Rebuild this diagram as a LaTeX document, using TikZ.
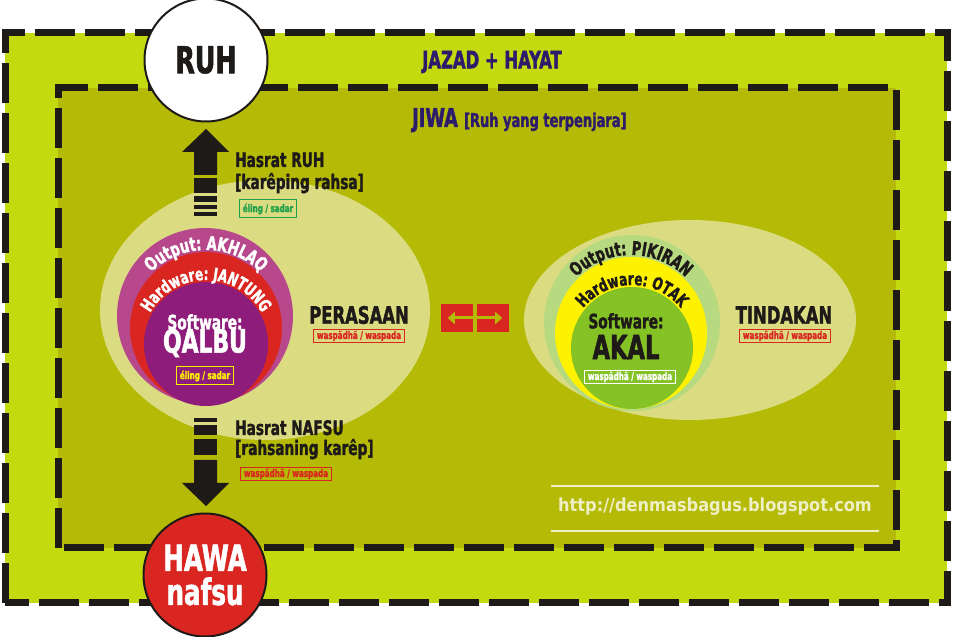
\documentclass[tikz,border=0pt]{standalone}
\usepackage{fontspec}
\setmainfont{DejaVu Sans Condensed}[FakeStretch=0.76, BoldFeatures={FakeBold=1.6}]
\newfontfamily\urlfont{DejaVu Sans Condensed}
\usepackage{tikz}
\usetikzlibrary{arrows.meta,shapes.geometric,decorations.text,calc}
\tikzset{>={Latex[width=3pt,length=5pt]}}

\definecolor{jazadbg}{HTML}{C5DA0E}
\definecolor{jiwabg}{HTML}{B5BA06}
\definecolor{ellbg}{HTML}{DBDC82}
\definecolor{akhlaq}{HTML}{B6488B}
\definecolor{jantung}{HTML}{DA2620}
\definecolor{qalbu}{HTML}{8E1C7A}
\definecolor{pikiran}{HTML}{B7DA80}
\definecolor{otak}{HTML}{FFF200}
\definecolor{akal}{HTML}{84C225}
\definecolor{navy}{HTML}{2D1B6B}
\definecolor{elinggreen}{HTML}{1FA04A}
\definecolor{urlcol}{HTML}{EEEFC4}
\definecolor{ink}{HTML}{1E1A17}

\newcommand\fsz[1]{\fontsize{#1}{#1}\selectfont}

\tikzset{
  frame/.style={line width=7pt, dash pattern=on 40pt off 10pt, draw=ink},
  ell/.style={ellipse, fill=ellbg, inner sep=0pt},
  ring/.style={circle, inner sep=0pt},
  bigdot/.style={circle, draw=ink, line width=2pt, inner sep=0pt, minimum size=123pt},
  ringtext/.style 2 args={decorate, decoration={text along path, text align=center,
      text color=#1, text={#2}}},
  tagbox/.style={draw=#1, text=#1, line width=1pt, inner xsep=3pt, inner ysep=1pt, font=\fsz{10.5}},
  swapbox/.style={fill=jantung, minimum width=32pt, minimum height=28pt, inner sep=0pt},
  swaparrow/.style={-{Triangle[length=7pt,width=12pt]}, line width=3pt, draw=jiwabg},
  urlline/.style={draw=urlcol, line width=2pt},
}

\begin{document}
\begin{tikzpicture}[x=1pt,y=1pt]

  \bfseries

  \fill[white] (0,0) rectangle (953,637);
  \useasboundingbox (0,0) rectangle (953,637);

  %% <frames>
  \draw[frame, fill=jazadbg] (5,34) rectangle (947,604);
  \node[text=navy, font=\fsz{24}] (jazad) at (492,575) {JAZAD + HAYAT};
  \draw[frame, fill=jiwabg] (58,89) rectangle (896,549);
  \node[anchor=base west, inner sep=0pt, text=navy] (jiwa) at (412,510)
    {\fsz{26}JIWA \fsz{19}[Ruh yang terpenjara]};
  % </frames>

  %% rasa side
  \node[ell, minimum width=330pt, minimum height=260pt] (rasa) at (265,327) {};
  \node[ring, fill=akhlaq, minimum size=176pt] (akhlaqC) at (205,321) {};
  \node[ring, fill=jantung, minimum size=152pt] (jantungC) at (206,309) {};
  \node[ring, fill=qalbu, minimum size=124pt] (qalbuC) at (206,293) {};
  \path[ringtext={white}{|\fsz{19}|Output: AKHLAQ}]
    ($(jantungC.center)+(200:78)$) arc[start angle=200, end angle=-20, radius=78];
  \path[ringtext={white}{|\fsz{17.5}|Hardware: JANTUNG}]
    ($(qalbuC.center)+(200:64)$) arc[start angle=200, end angle=-20, radius=64];
  \node[text=white, font=\fsz{20}] (softL) at (205,315) {Software:};
  \node[text=white, font=\fsz{32}] (qalbuT) at (205,294) {QALBU};
  \node[tagbox=otak, minimum height=18pt] (elingQ) at (205,261) {éling / sadar};

  \node[text=ink, font=\fsz{24}] (perasaan) at (359,322) {PERASAAN};
  \node[tagbox=jantung] (waspP) at (359,301) {waspädhä / waspada};

  %% akal side
  \node[ell, minimum width=332pt, minimum height=200pt] (tindak) at (690,317) {};
  \node[ring, fill=pikiran, minimum size=176pt] (pikiranC) at (632,314) {};
  \node[ring, fill=otak, minimum size=152pt] (otakC) at (631,304) {};
  \node[ring, fill=akal, minimum size=122pt] (akalC) at (632,289) {};
  \path[ringtext={ink}{|\fsz{19}|Output: PIKIRAN}]
    ($(otakC.center)+(200:78)$) arc[start angle=200, end angle=-20, radius=78];
  \path[ringtext={ink}{|\fsz{17.5}|Hardware: OTAK}]
    ($(akalC.center)+(200:63)$) arc[start angle=200, end angle=-20, radius=63];
  \node[text=ink, font=\fsz{20}] (softR) at (626,316) {Software:};
  \node[text=ink, font=\fsz{33}] (akalT) at (626,290) {AKAL};
  \node[tagbox=white] (waspA) at (630,260) {waspädhä / waspada};

  \node[text=ink, font=\fsz{24}] (tindakan) at (784,322) {TINDAKAN};
  \node[tagbox=jantung] (waspT) at (785,301) {waspädhä / waspada};

  %% swap arrows
  \node[swapbox] (swapL) at (457,319) {};
  \node[swapbox] (swapR) at (493,319) {};
  \draw[swaparrow] (swapL.east) -- ([xshift=7pt]swapL.west);
  \draw[swaparrow] (swapR.west) -- ([xshift=-7pt]swapR.east);

  %% up arrow (Hasrat RUH)
  \fill[ink] (182,485) -- (206,508) -- (229,485) -- (217,485) -- (217,462)
    -- (194,462) -- (194,485) -- cycle;
  \foreach \a/\b in {459/444, 441/435, 432/428, 425/421}
    \fill[ink] (194,\a) rectangle (217,\b);
  \node[anchor=base west, inner sep=0pt, text=ink, font=\fsz{20}] (hasratR) at (235,470) {Hasrat RUH};
  \node[anchor=base west, inner sep=0pt, text=ink, font=\fsz{20}] (karep) at (235,448) {[karêping rahsa]};
  \node[tagbox=elinggreen, minimum height=18pt] (elingT) at (268,428) {éling / sadar};

  %% down arrow (Hasrat NAFSU)
  \foreach \a/\b in {219/215, 212/202, 198/182}
    \fill[ink] (194,\a) rectangle (217,\b);
  \fill[ink] (194,177) -- (217,177) -- (217,154) -- (229,154) -- (206,131)
    -- (182,154) -- (194,154) -- cycle;
  \node[anchor=base west, inner sep=0pt, text=ink, font=\fsz{20}] (hasratN) at (235,202) {Hasrat NAFSU};
  \node[anchor=base west, inner sep=0pt, text=ink, font=\fsz{20}] (rahsa) at (235,182) {[rahsaning karêp]};
  \node[tagbox=jantung] (waspN) at (286,163) {waspädhä / waspada};

  %% ruh / hawa
  \node[bigdot, fill=white, text=ink, font=\fsz{37}] (ruh) at (206,577) {RUH};
  \node[bigdot, fill=jantung, text=white, align=center, font=\fontsize{36}{34}\selectfont]
    (hawa) at (205,62) {HAWA\\nafsu};

  %% blog
  \node[text=urlcol, font=\urlfont\fsz{18}, inner sep=0pt] (url) at (715,130)
    {http://denmasbagus.blogspot.com};
  \draw[urlline] ($(url.west)+(-7,21)$) -- ($(url.east)+(7,21)$);
  \draw[urlline] ($(url.west)+(-7,-24)$) -- ($(url.east)+(7,-24)$);

\end{tikzpicture}
\end{document}
